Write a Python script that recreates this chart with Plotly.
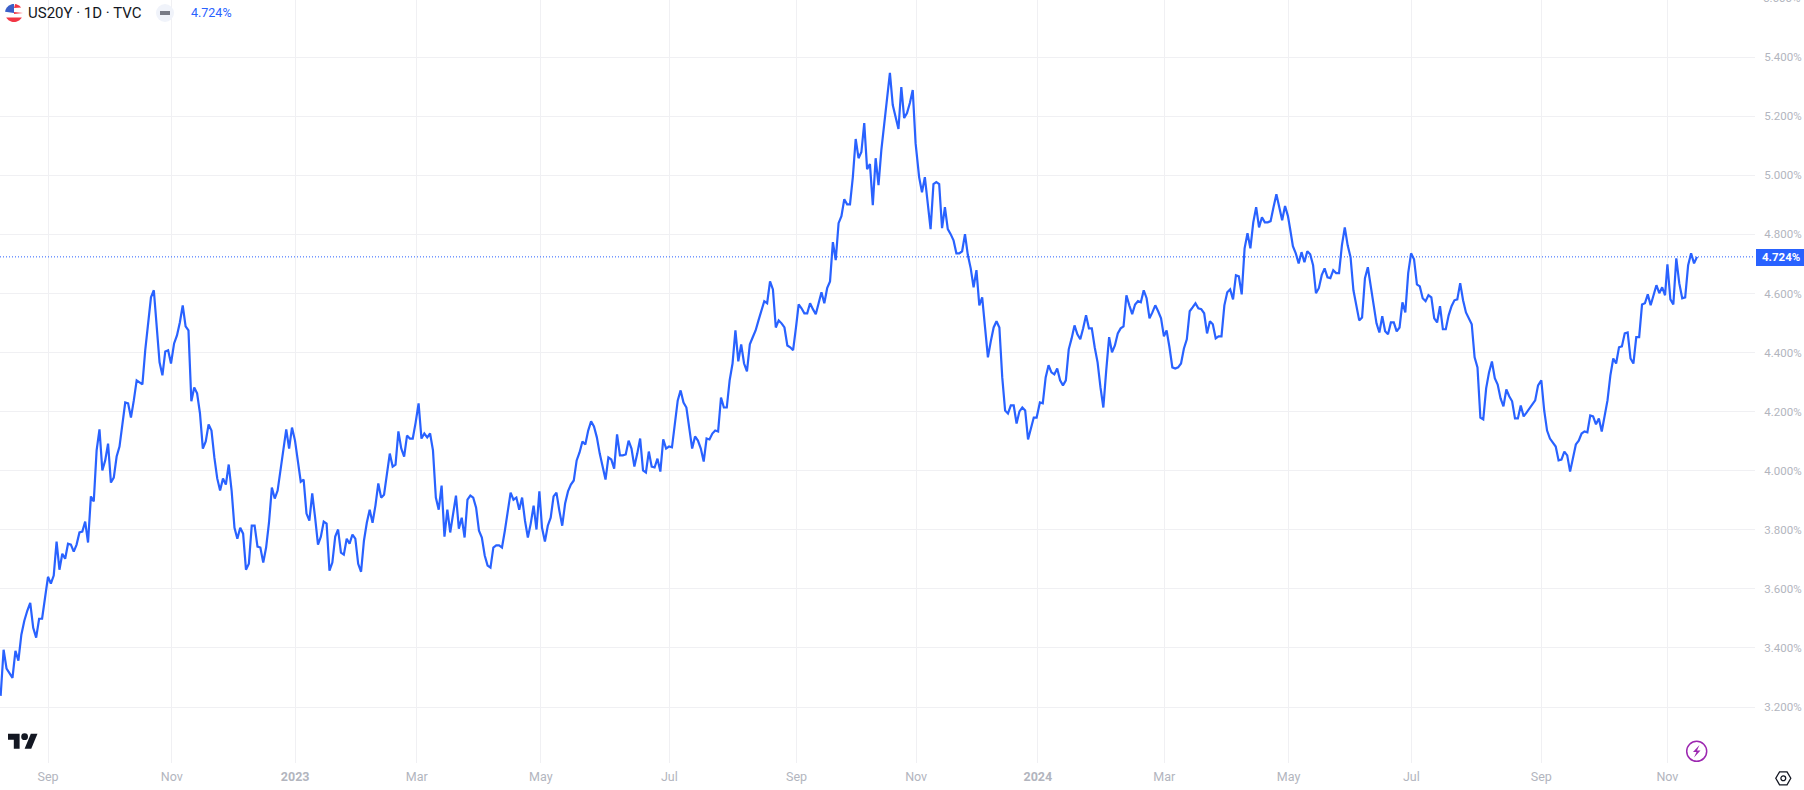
import numpy as np
import plotly.graph_objects as go

# US20Y daily yield, split up at the axis month ticks
head = [3.238, 3.394, 3.330, 3.313, 3.299, 3.390, 3.357, 3.445, 3.492, 3.526, 3.553, 3.468, 3.435, 3.499, 3.499, 3.570]
sep22 = [3.641, 3.618, 3.645, 3.760, 3.665, 3.719, 3.702, 3.753, 3.750, 3.726, 3.750, 3.791, 3.794, 3.828, 3.757,
         3.913, 3.896, 4.069, 4.140, 4.001, 4.035, 4.092, 3.960, 3.977, 4.048, 4.082, 4.160, 4.231, 4.228, 4.180,
         4.238, 4.306, 4.299, 4.292, 4.408, 4.499, 4.587, 4.611, 4.475, 4.367, 4.323, 4.404, 4.408, 4.363]
nov22 = [4.431, 4.458, 4.502, 4.560, 4.489, 4.475, 4.235, 4.282, 4.262, 4.194, 4.075, 4.099, 4.157, 4.136, 4.045,
         3.974, 3.933, 3.974, 3.953, 4.021, 3.933, 3.807, 3.770, 3.807, 3.787, 3.665, 3.685, 3.814, 3.814, 3.743,
         3.740, 3.689, 3.740, 3.824, 3.943, 3.906, 3.933, 4.001, 4.072, 4.140, 4.075, 4.146]
jan23 = [4.102, 4.024, 3.963, 3.970, 3.855, 3.831, 3.923, 3.841, 3.750, 3.777, 3.828, 3.821, 3.662, 3.689, 3.777,
         3.801, 3.723, 3.716, 3.770, 3.753, 3.784, 3.770, 3.685, 3.658, 3.763, 3.824, 3.868, 3.824, 3.882, 3.957,
         3.909, 3.919, 3.984, 4.058, 4.014, 4.021, 4.133, 4.075, 4.048, 4.119, 4.109, 4.109, 4.163]
mar23 = [4.228, 4.109, 4.126, 4.113, 4.126, 4.069, 3.909, 3.868, 3.950, 3.777, 3.868, 3.791, 3.848, 3.916, 3.804,
         3.841, 3.774, 3.902, 3.916, 3.909, 3.875, 3.797, 3.774, 3.713, 3.679, 3.672, 3.740, 3.747, 3.747, 3.740,
         3.797, 3.855, 3.926, 3.902, 3.909, 3.868, 3.909, 3.831, 3.774, 3.821, 3.882, 3.801, 3.930]
may23 = [3.807, 3.760, 3.814, 3.841, 3.913, 3.926, 3.865, 3.814, 3.889, 3.930, 3.953, 3.967, 4.035, 4.062, 4.099,
         4.089, 4.136, 4.167, 4.150, 4.113, 4.058, 4.011, 3.970, 4.045, 4.038, 4.007, 4.123, 4.052, 4.052, 4.055,
         4.102, 4.075, 4.014, 4.058, 4.109, 4.001, 3.994, 4.065, 4.014, 4.011, 4.041, 3.997, 4.106, 4.075, 4.082]
jul23 = [4.079, 4.153, 4.238, 4.272, 4.231, 4.214, 4.136, 4.075, 4.116, 4.102, 4.075, 4.031, 4.109, 4.106, 4.126,
         4.136, 4.133, 4.248, 4.214, 4.214, 4.306, 4.363, 4.475, 4.370, 4.428, 4.363, 4.336, 4.428, 4.452, 4.475,
         4.509, 4.543, 4.574, 4.567, 4.641, 4.614, 4.485, 4.509, 4.499, 4.485, 4.424, 4.418, 4.408, 4.485]
sep23 = [4.563, 4.550, 4.533, 4.533, 4.567, 4.547, 4.530, 4.567, 4.604, 4.567, 4.618, 4.641, 4.774, 4.713, 4.838,
         4.862, 4.919, 4.902, 4.902, 4.994, 5.123, 5.058, 5.079, 5.177, 5.021, 5.038, 4.899, 5.058, 4.967, 5.086,
         5.177, 5.262, 5.347, 5.238, 5.194, 5.157, 5.299, 5.194, 5.211, 5.245, 5.289, 5.109]
nov23 = [4.994, 4.943, 4.994, 4.906, 4.818, 4.970, 4.977, 4.970, 4.821, 4.892, 4.818, 4.801, 4.780, 4.736, 4.736,
         4.743, 4.801, 4.730, 4.685, 4.621, 4.679, 4.560, 4.587, 4.485, 4.384, 4.438, 4.485, 4.506, 4.485, 4.316,
         4.204, 4.194, 4.221, 4.221, 4.160, 4.201, 4.214, 4.204, 4.106, 4.143, 4.180, 4.180]
jan24 = [4.231, 4.228, 4.316, 4.357, 4.333, 4.326, 4.346, 4.306, 4.289, 4.306, 4.411, 4.448, 4.492, 4.462, 4.445,
         4.482, 4.526, 4.482, 4.482, 4.418, 4.367, 4.282, 4.214, 4.340, 4.452, 4.401, 4.424, 4.465, 4.482, 4.489,
         4.594, 4.560, 4.530, 4.563, 4.574, 4.570, 4.611, 4.584, 4.516, 4.536, 4.560, 4.540, 4.516, 4.455]
mar24 = [4.475, 4.418, 4.350, 4.346, 4.350, 4.363, 4.414, 4.445, 4.540, 4.553, 4.567, 4.550, 4.547, 4.533, 4.465,
         4.506, 4.496, 4.448, 4.455, 4.455, 4.560, 4.604, 4.614, 4.580, 4.662, 4.658, 4.597, 4.753, 4.804, 4.753,
         4.841, 4.892, 4.824, 4.858, 4.841, 4.841, 4.845, 4.892, 4.936, 4.892, 4.848, 4.896, 4.862]
may24 = [4.821, 4.760, 4.736, 4.702, 4.740, 4.706, 4.743, 4.733, 4.696, 4.601, 4.618, 4.662, 4.685, 4.655, 4.652,
         4.679, 4.669, 4.669, 4.763, 4.824, 4.763, 4.723, 4.611, 4.553, 4.509, 4.519, 4.652, 4.689, 4.628, 4.560,
         4.499, 4.468, 4.523, 4.472, 4.462, 4.502, 4.502, 4.472, 4.485, 4.570, 4.536, 4.669, 4.736]
jul24 = [4.716, 4.631, 4.624, 4.584, 4.574, 4.594, 4.587, 4.516, 4.502, 4.557, 4.479, 4.479, 4.526, 4.557, 4.577,
         4.580, 4.635, 4.577, 4.536, 4.516, 4.496, 4.384, 4.350, 4.180, 4.174, 4.279, 4.333, 4.370, 4.313, 4.292,
         4.245, 4.218, 4.275, 4.252, 4.235, 4.177, 4.177, 4.221, 4.184, 4.197, 4.211, 4.221, 4.238, 4.289]
sep24 = [4.306, 4.204, 4.136, 4.109, 4.096, 4.082, 4.035, 4.038, 4.065, 4.052, 3.997, 4.045, 4.089, 4.102, 4.126,
         4.133, 4.130, 4.187, 4.184, 4.157, 4.177, 4.133, 4.187, 4.238, 4.323, 4.380, 4.363, 4.418, 4.421, 4.465,
         4.468, 4.380, 4.363, 4.452, 4.452, 4.563, 4.567, 4.597, 4.560, 4.591, 4.628, 4.601, 4.621, 4.594]
tail = [4.699, 4.580, 4.563, 4.719, 4.635, 4.584, 4.587, 4.696, 4.736, 4.702, 4.724]

segments = [sep22, nov22, jan23, mar23, may23, jul23, sep23, nov23, jan24, mar24, may24, jul24, sep24]

# bars counted from the first Sep tick
tick_bars = [0, 41.8, 83.5, 124.6, 166.5, 209.9, 252.9, 293.3, 334.4, 377.1, 419.1, 460.6, 504.5, 547.1]
seg_first = [0, 42.6, 83.45, 125.2, 166.9, 210.8, 253.6, 294.3, 335.1, 377.9, 419.6, 461.5, 504.5]
seg_last = [41.55, 82.43, 124.2, 166.0, 209.8, 252.7, 293.1, 334.0, 377.0, 418.9, 460.5, 503.4, 546.3]
tick_labels = ['Sep', 'Nov', '<b>2023</b>', 'Mar', 'May', 'Jul', 'Sep', 'Nov', '<b>2024</b>', 'Mar', 'May', 'Jul', 'Sep', 'Nov']
y_ticks = [3.2, 3.4, 3.6, 3.8, 4.0, 4.2, 4.4, 4.6, 4.8, 5.0, 5.2, 5.4]
last_price = tail[-1]

W, H = 1804, 790
PLOT_W, PLOT_H = 1755, 763
BAR_PX = 2.96
BLUE = '#2962ff'
GRID = '#f0f0f3'
LABEL = '#b2b5be'
DARK = '#131722'
FONT = 'Roboto'

x = list(np.arange(-len(head), 0, dtype=float))
y = list(head)
for i, seg in enumerate(segments):
    x += list(np.linspace(seg_first[i], seg_last[i], len(seg)))
    y += seg
x += [tick_bars[-1] + j for j in range(len(tail))]
y += tail


def px(v):
    return v / PLOT_W


def py(v):
    return 1 - v / PLOT_H


def poly(points, close=True):
    s = 'M' + ' L'.join('%.5f,%.5f' % (px(a), py(b)) for a, b in points)
    return s + (' Z' if close else '')


def circle(cx, cy, r, **kw):
    return dict(type='circle', xref='paper', yref='paper', x0=px(cx - r), x1=px(cx + r),
                y0=py(cy + r), y1=py(cy - r), **kw)


def path(points, fill=None, color=None, width=0, close=True):
    return dict(type='path', xref='paper', yref='paper', path=poly(points, close),
                fillcolor=fill if fill else 'rgba(0,0,0,0)', line=dict(color=color if color else 'rgba(0,0,0,0)', width=width))


fig = go.Figure()
fig.add_trace(go.Scatter(x=x, y=y, mode='lines', line=dict(color=BLUE, width=2.2), hoverinfo='skip', showlegend=False))

shapes = []
shapes.append(dict(type='line', xref='paper', yref='y', x0=0, x1=1, y0=last_price, y1=last_price,
                   line=dict(color=BLUE, width=1, dash='1px,2px')))
# price badge
shapes.append(dict(type='rect', xref='paper', yref='paper', x0=px(1756), x1=px(1804), y0=py(266), y1=py(249),
                   fillcolor=BLUE, line=dict(width=0)))

# flag in the header
fx, fy, fr = 14, 13, 9
shapes.append(circle(fx, fy, fr, fillcolor='#ffffff', line=dict(width=0)))
ang = np.linspace(0, 2 * np.pi, 49)
rim = [(fx + fr * np.cos(a), fy + fr * np.sin(a)) for a in ang]
shapes.append(path([p for p in rim if p[1] >= fy + 3.5], fill='#f23645'))
shapes.append(path([p for p in rim if fy - 1 <= p[1] <= fy + 1 and p[0] > fx] + [(fx, fy + 1), (fx, fy - 1)], fill='#f23645'))
shapes.append(path([p for p in rim if p[1] <= fy - 5 and p[0] > fx] + [(fx, fy - 5)], fill='#f23645'))
shapes.append(path([(fx, fy)] + [p for p in rim if p[0] <= fx and p[1] <= fy], fill='#3a5fc8'))
# collapse button
shapes.append(circle(165, 13, 9, fillcolor='#f0f3fa', line=dict(width=0)))
shapes.append(dict(type='rect', xref='paper', yref='paper', x0=px(160), x1=px(170), y0=py(15), y1=py(11),
                   fillcolor='#787b86', line=dict(width=0)))

# tradingview logo
lx, ly, ls = 8, 730.5, 0.83
shapes.append(path([(lx + a * ls, ly + b * ls) for a, b in [(14, 22), (7, 22), (7, 11), (0, 11), (0, 4), (14, 4)]], fill=DARK))
shapes.append(path([(lx + a * ls, ly + b * ls) for a, b in [(28, 22), (20, 22), (27.5, 4), (35.5, 4)]], fill=DARK))
shapes.append(circle(lx + 20 * ls, ly + 7.5 * ls, 3.4, fillcolor=DARK, line=dict(width=0)))

# lightning button
shapes.append(circle(1696.7, 751.3, 10, fillcolor='#ffffff', line=dict(color='#9c27b0', width=1.5)))
shapes.append(path([(1699.5, 745), (1693, 752), (1696.5, 752), (1694, 757.5), (1700.5, 750.5), (1697, 750.5)], fill='#9c27b0'))

# settings icon under the axis
gx, gy = 1783.3, 778.3
hexa = [(gx + 7.5 * np.cos(a), gy + 7.5 * np.sin(a)) for a in np.arange(6) * np.pi / 3]
shapes.append(path(hexa, color=DARK, width=1.3))
shapes.append(circle(gx, gy, 2.4, fillcolor='rgba(0,0,0,0)', line=dict(color=DARK, width=1.3)))

annotations = [
    dict(text='US20Y · 1D · TVC', x=px(27), y=py(13), font=dict(size=15, color=DARK, family=FONT), xanchor='left'),
    dict(text='4.724%', x=px(190), y=py(13), font=dict(size=12.5, color=BLUE, family=FONT), xanchor='left'),
    dict(text='<b>4.724%</b>', x=px(1801), y=py(257.5), font=dict(size=11.5, color='#ffffff', family=FONT), xanchor='right'),
    dict(text='5.600%', x=px(1801), y=py(-2), font=dict(size=11.5, color=LABEL, family=FONT), xanchor='right'),
]
for a in annotations:
    a.update(xref='paper', yref='paper', yanchor='middle', showarrow=False, borderpad=0)

fig.update_layout(
    width=W, height=H, autosize=False,
    margin=dict(l=0, r=W - PLOT_W, t=0, b=H - PLOT_H, pad=0),
    paper_bgcolor='#ffffff', plot_bgcolor='#ffffff',
    font=dict(family=FONT, size=12, color=LABEL),
    shapes=shapes, annotations=annotations,
)
fig.update_xaxes(automargin=False, range=[-48 / BAR_PX, (PLOT_W - 48) / BAR_PX], tickmode='array', tickvals=tick_bars,
                 ticktext=tick_labels, showgrid=True, gridcolor=GRID, gridwidth=1, zeroline=False, showline=False,
                 ticks='outside', ticklen=2, tickcolor='rgba(0,0,0,0)', tickfont=dict(size=12.5, color=LABEL, family=FONT))
fig.update_yaxes(automargin=False, range=[3.0106, 5.5936], side='right', tickmode='array', tickvals=y_ticks,
                 ticktext=['%.3f%%' % t for t in y_ticks], showgrid=True, gridcolor=GRID, gridwidth=1, zeroline=False,
                 showline=False, ticks='outside', ticklen=6, tickcolor='rgba(0,0,0,0)',
                 tickfont=dict(size=11.5, color=LABEL, family=FONT))

fig.write_html("out.html", config=dict(displayModeBar=False), post_script="document.body.style.margin='0';")
